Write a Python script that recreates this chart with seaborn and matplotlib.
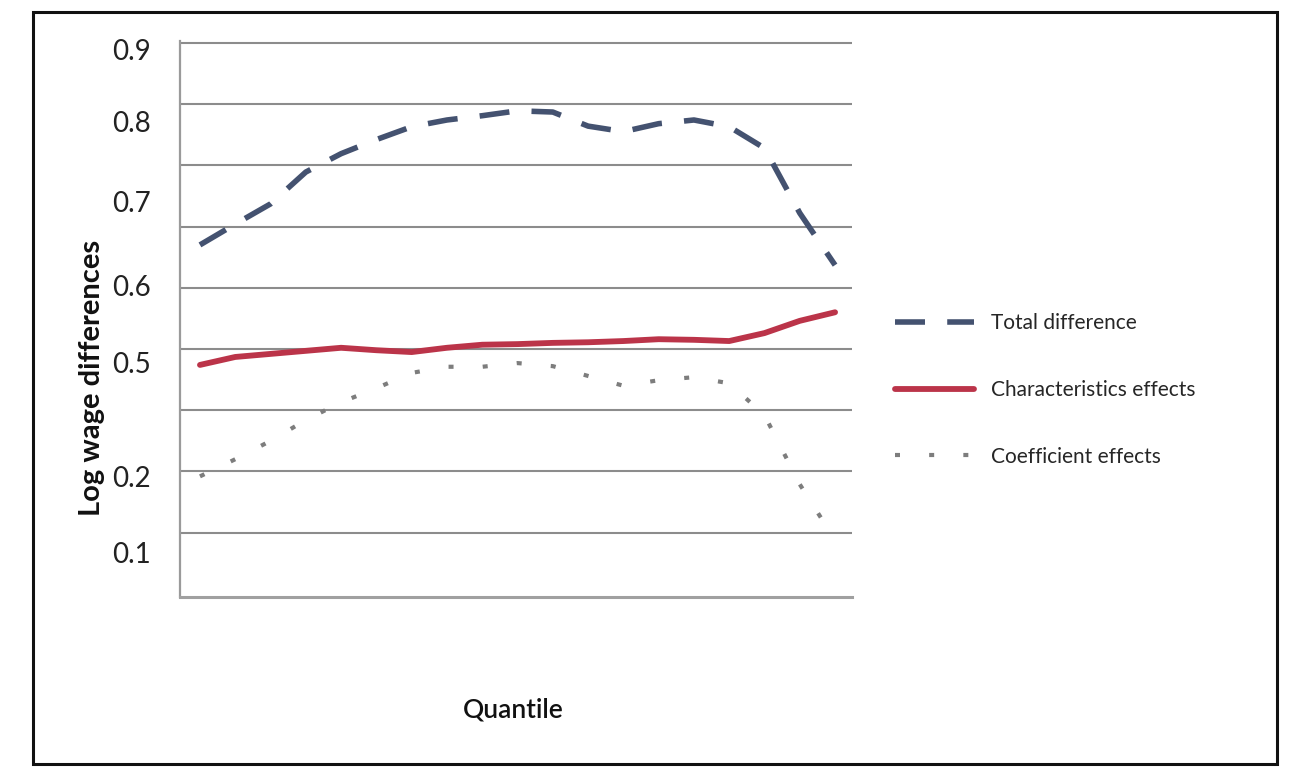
import numpy as np
import pandas as pd
import seaborn as sns
import matplotlib
matplotlib.use("Agg")
import matplotlib.pyplot as plt
from matplotlib.patches import Rectangle

# Quantiles and the three decomposition series
quantiles = [0.05, 0.10, 0.15, 0.20, 0.25, 0.30, 0.35, 0.40, 0.45, 0.50,
             0.55, 0.60, 0.65, 0.70, 0.75, 0.80, 0.85, 0.90, 0.95]
total_diff = [0.570, 0.604, 0.637, 0.689, 0.719, 0.742, 0.763, 0.774, 0.781, 0.789,
              0.787, 0.764, 0.755, 0.768, 0.774, 0.763, 0.728, 0.622, 0.537]
charac_eff = [0.374, 0.387, 0.392, 0.397, 0.402, 0.398, 0.395, 0.402, 0.407, 0.408,
              0.410, 0.411, 0.413, 0.416, 0.415, 0.413, 0.426, 0.446, 0.460]
coef_eff = [0.192, 0.220, 0.250, 0.284, 0.313, 0.336, 0.361, 0.371, 0.371, 0.377,
            0.372, 0.356, 0.340, 0.349, 0.354, 0.344, 0.292, 0.179, 0.088]

# y tick labels as printed on the original (they sit off the gridlines)
ytick_pos = [0.889, 0.772, 0.641, 0.503, 0.378, 0.191, 0.068]
ytick_lab = ["0.9", "0.8", "0.7", "0.6", "0.5", "0.2", "0.1"]
grid_vals = [0.1, 0.2, 0.3, 0.4, 0.5, 0.6, 0.7, 0.8, 0.9]

df = pd.DataFrame({"q": quantiles, "total": total_diff,
                   "charac": charac_eff, "coef": coef_eff})

sns.set_theme(style="white")
plt.rcParams["font.family"] = ["Lato", "DejaVu Sans"]

fig = plt.figure(figsize=(12.97, 7.69), dpi=100)
ax = fig.add_axes([180 / 1297, 172 / 769, 672 / 1297, 556 / 769])

sns.lineplot(data=df, x="q", y="total", ax=ax, color="#445270", lw=4.0,
             label="Total difference")
sns.lineplot(data=df, x="q", y="charac", ax=ax, color="#bb3449", lw=4.2,
             label="Characteristics effects")
sns.lineplot(data=df, x="q", y="coef", ax=ax, color="#7d7d7d", lw=3.0,
             label="Coefficient effects")
ax.lines[0].set_dashes((5.4, 4.0))
ax.lines[2].set_dashes((1.2, 7.0))

ax.set_xlim(0.0217, 0.974)
ax.set_ylim(-0.005, 0.903)
ax.set_xticks([])
ax.set_yticks(ytick_pos)
ax.set_yticklabels(ytick_lab, fontsize=20, color="#222222")
ax.set_yticks(grid_vals, minor=True)
ax.tick_params(axis="y", which="both", length=0, pad=21)
ax.yaxis.grid(True, which="minor", color="#8c8c8c", lw=1.5)
ax.yaxis.grid(False, which="major")
ax.set_axisbelow(True)

for s in ["top", "right"]:
    ax.spines[s].set_visible(False)
ax.spines["left"].set_color("#9a9a9a")
ax.spines["left"].set_linewidth(1.6)
ax.spines["bottom"].set_color("#a0a0a0")
ax.spines["bottom"].set_linewidth(2.2)

ax.set_xlabel("")
ax.set_ylabel("")
fig.text(92 / 1297, 1 - 378 / 769, "Log wage differences", rotation=90,
         ha="center", va="center", fontsize=21, fontweight="bold", color="#111111")
fig.text(513 / 1297, 1 - 710 / 769, "Quantile", ha="center", va="center",
         fontsize=19, fontweight="semibold", color="#111111")

ax.legend(loc="upper left", bbox_to_anchor=(895 / 1297, 1 - 313 / 769),
          bbox_transform=fig.transFigure, frameon=False, fontsize=15,
          handlelength=3.8, handletextpad=0.8, labelspacing=2.25,
          borderpad=0, borderaxespad=0)

# outer frame around the whole chart
fig.patches.append(Rectangle((33 / 1297, 1 - 764 / 769), 1244 / 1297, 752 / 769,
                             transform=fig.transFigure, fill=False,
                             edgecolor="#111111", lw=2.2))

fig.savefig("out.png", dpi=100, facecolor="white")
